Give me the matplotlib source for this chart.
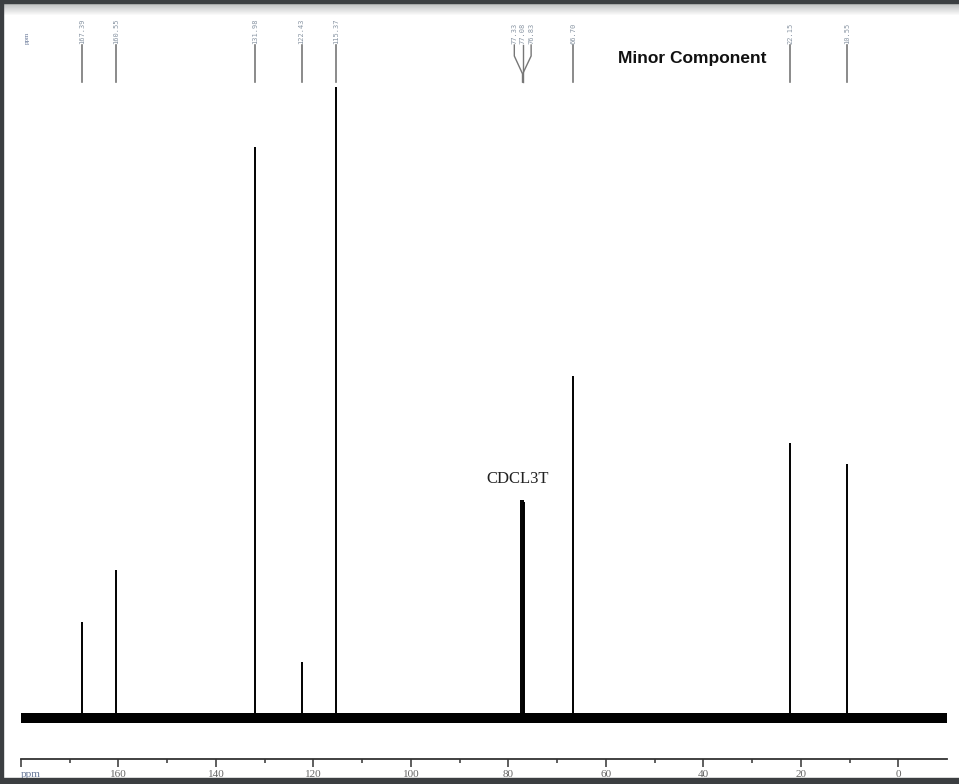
import matplotlib
matplotlib.use("Agg")
import matplotlib.pyplot as plt
from matplotlib.patches import Rectangle
import matplotlib.transforms as mtransforms

# ---- data ----
peak_ppm = [167.39, 160.55, 131.98, 122.43, 115.37, 77.33, 77.08, 76.83, 66.70, 22.15, 10.55]
peak_int = [15.2, 23.5, 90.5, 8.9, 100.0, 34.5, 34.5, 34.2, 54.2, 43.6, 40.3]
peak_labels = ["167.39", "160.55", "131.98", "122.43", "115.37",
               "77.33", "77.08", "76.83", "66.70", "22.15", "10.55"]
tick_values = [160, 140, 120, 100, 80, 60, 40, 20, 0]
tick_labels = ["160", "140", "120", "100", "80", "60", "40", "20", "0"]
minor_values = [170, 150, 130, 110, 90, 70, 50, 30, 10]
x_range = (180, -10)
title_text = "Minor Component"
solvent_text = "CDCL3T"

W, H = 959, 784
fig = plt.figure(figsize=(W / 100, H / 100), dpi=100)
fig.patch.set_facecolor("white")

def fx(px):
    return px / W

def fy(py):  # image y (top-down) -> figure fraction
    return (H - py) / H

ax_left, ax_right = 21, 947
ax_bottom_px, ax_top_px = 759, 87
ax = fig.add_axes([fx(ax_left), fy(ax_bottom_px), fx(ax_right - ax_left),
                   (ax_bottom_px - ax_top_px) / H])
ax.set_facecolor("none")
ax.set_xlim(*x_range)
ax.set_ylim(-6.5, 100)

# baseline noise band
ax.fill_between(list(x_range), [-0.75, -0.75], [0.75, 0.75], color="black", lw=0, zorder=2)
ax.plot(list(x_range), [0, 0], color="black", lw=0.8, zorder=2)

# peaks
ax.vlines(peak_ppm, 0, peak_int, colors="black", lw=1.4, zorder=3, clip_on=False)

# axis styling
for s in ["top", "left", "right"]:
    ax.spines[s].set_visible(False)
ax.spines["bottom"].set_color("#333333")
ax.spines["bottom"].set_linewidth(1.3)
ax.set_yticks([])
ax.set_xticks([180] + tick_values)
ax.set_xticklabels(["ppm"] + tick_labels)
ax.set_xticks(minor_values, minor=True)
ax.tick_params(axis="x", which="major", direction="out", length=6, width=1.1,
               color="#333333", labelsize=8, labelcolor="#666666", pad=2)
ax.tick_params(axis="x", which="minor", direction="out", length=3, width=1.1,
               color="#333333")
for lab in ax.get_xticklabels():
    lab.set_fontfamily("Liberation Serif")
ppm_lab = ax.get_xticklabels()[0]
ppm_lab.set_horizontalalignment("left")
ppm_lab.set_color("#6a7a9a")

# peak list labels at top
trans = mtransforms.blended_transform_factory(ax.transData, fig.transFigure)
label_color = "#8a96a4"
line_color = "#777777"
triplet_offsets = {"77.33": 1.7, "77.08": 0.0, "76.83": -1.75}
for p, lab in zip(peak_ppm, peak_labels):
    if lab in triplet_offsets:
        lx = 77.08 + triplet_offsets[lab]
        ax.plot([lx, lx, 77.08, 77.08], [fy(45), fy(56), fy(74), fy(82)],
                transform=trans, color=line_color, lw=1.0, clip_on=False)
    else:
        lx = p
        ax.plot([lx, lx], [fy(45), fy(82)], transform=trans, color=line_color,
                lw=1.2, clip_on=False)
    ax.text(lx, fy(44), lab, transform=trans, rotation=90, ha="center", va="bottom",
            fontsize=5, color=label_color, family="DejaVu Sans Mono")

fig.text(fx(27), fy(44), "ppm", rotation=90, ha="center", va="bottom",
         fontsize=5, color="#6a7a9a", family="Liberation Serif")

# title and solvent label
fig.text(fx(692), fy(58), title_text, ha="center", va="center", fontsize=12.5,
         fontweight="bold", family="Liberation Sans", color="#111111")
ax.text(78.1, fy(479), solvent_text, transform=trans, ha="center", va="center",
        fontsize=12, family="Liberation Serif", color="#222222")

# page frame (dark border + shadow)
fig.patches.append(Rectangle((0, fy(3)), 1, fy(0) - fy(3), transform=fig.transFigure,
                             color="#3b3e41", zorder=10))
for i in range(12):
    a = 0.35 * (1 - i / 12)
    fig.patches.append(Rectangle((0, fy(4 + i)), 1, 1 / H, transform=fig.transFigure,
                                 color="#3b3e41", alpha=a, lw=0, zorder=9))
fig.patches.append(Rectangle((0, 0), fx(3), 1, transform=fig.transFigure,
                             color="#3b3e41", zorder=10))
fig.patches.append(Rectangle((0, 0), 1, fy(778), transform=fig.transFigure,
                             color="#3b3e41", zorder=10))

fig.savefig("out.png", dpi=100, facecolor="white")
